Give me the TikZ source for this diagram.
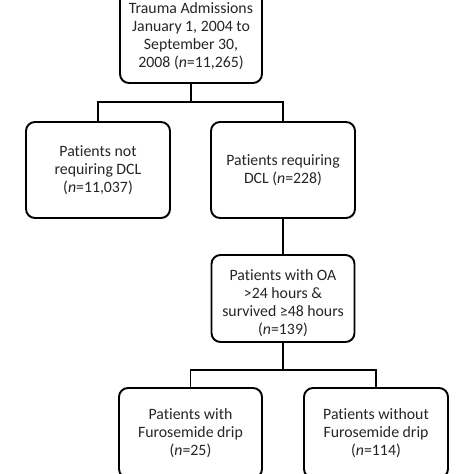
\documentclass[tikz,border=0pt]{standalone}
\usepackage{fontspec}
\setmainfont{Carlito}[Ligatures={NoCommon,NoRequired,NoContextual}]
\begin{document}
\begin{tikzpicture}[x=1pt,y=-1pt,
  box/.style={draw=black, line width=1.9pt, rounded corners=9pt, fill=white},
  txt/.style={align=center, font=\fontsize{15.8}{18}\selectfont, text=black!85, inner sep=0pt},
  conn/.style={draw=black, line width=1.9pt}]
\useasboundingbox (0,0) rectangle (474,474);
\clip (0,0) rectangle (474,474);
\fill[white] (0,0) rectangle (474,474);
% boxes
\node[box, minimum width=142pt, minimum height=93pt] (top) at (191,36.5) {};
\node[txt] (topt) at (191,36.5) {Trauma Admissions\\January 1, 2004 to\\September 30,\\2008 (\textit{n}=11,265)};
\node[box, minimum width=144pt, minimum height=96pt] (left) at (98,170) {};
\node[txt] (leftt) at (98,170) {Patients not\\requiring DCL\\(\textit{n}=11,037)};
\node[box, minimum width=144pt, minimum height=96pt] (right) at (283,170) {};
\node[txt] (rightt) at (283,170) {Patients requiring\\DCL (\textit{n}=228)};
\node[box, minimum width=143pt, minimum height=87pt] (mid) at (283,298.5) {};
\node[txt] (midt) at (283,303) {Patients with OA\\>24 hours \&\\survived ≥48 hours\\(\textit{n}=139)};
\node[box, minimum width=143pt, minimum height=90pt] (bl) at (190.5,433) {};
\node[txt] (blt) at (190.5,433) {Patients with\\Furosemide drip\\(\textit{n}=25)};
\node[box, minimum width=144pt, minimum height=90pt] (br) at (376,433) {};
\node[txt] (brt) at (376,433) {Patients without\\Furosemide drip\\(\textit{n}=114)};
% connectors
\coordinate (j1) at (191,102);
\coordinate (j2) at (283,370);
\draw[conn] (top.south) -- (j1);
\draw[conn] (left.north) |- (j1) -| (right.north);
\draw[conn] (right.south) -- (mid.north);
\draw[conn] (mid.south) -- (j2);
\draw[conn] (bl.north) |- (j2) -| (br.north);
\end{tikzpicture}
\end{document}
